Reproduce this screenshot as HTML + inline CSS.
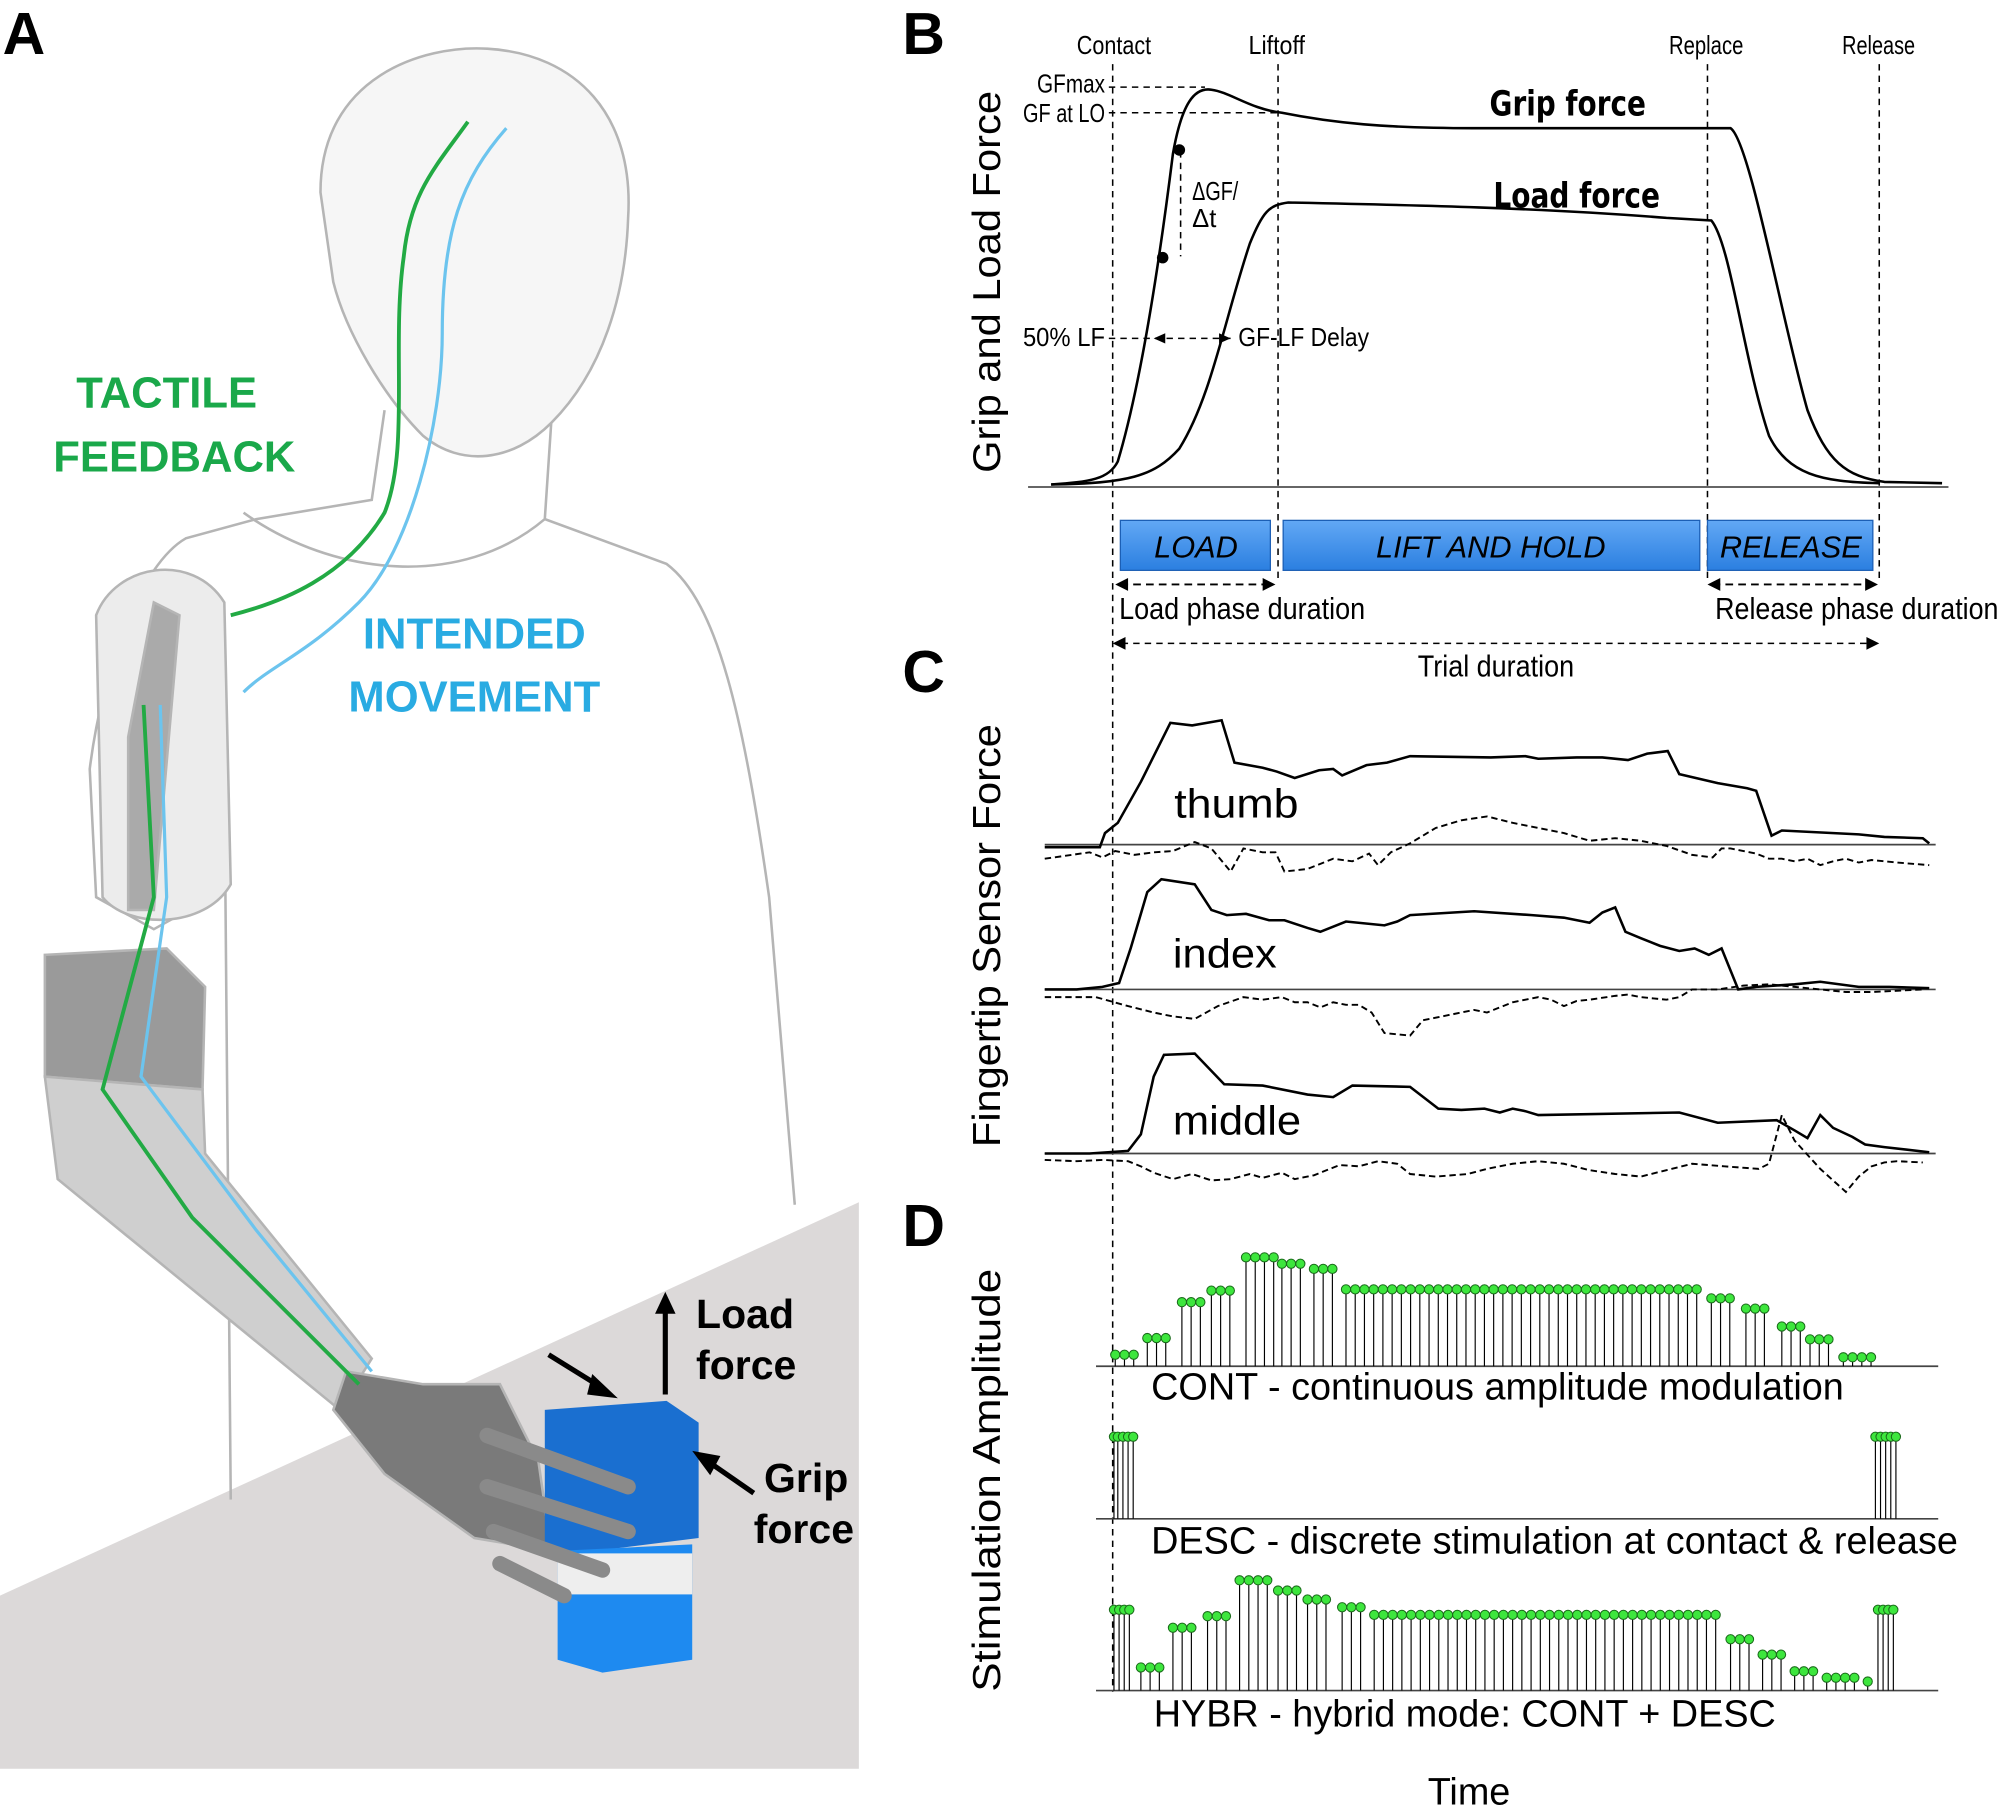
<!DOCTYPE html>
<html><head><meta charset="utf-8"><style>
html,body{margin:0;padding:0;background:#fff}
svg{display:block}
text{font-family:"Liberation Sans",sans-serif}
.n{font-family:"Liberation Sans Narrow","DejaVu Sans Condensed","Liberation Sans",sans-serif}
</style></head><body>
<svg id="s" width="2010" height="1811" viewBox="0 0 1568 1413" preserveAspectRatio="none" xmlns="http://www.w3.org/2000/svg">
<defs>
<linearGradient id="bg" x1="0" y1="0" x2="0" y2="1"><stop offset="0" stop-color="#62a8f5"/><stop offset="1" stop-color="#2b7fe0"/></linearGradient>
</defs>
<!-- Panel A -->
<text x="2" y="42" font-size="46" font-weight="bold">A</text>
<polygon points="0,1245 670,938 670,1380 0,1380" fill="#dcd9d9"/>
<g fill="none" stroke="#b5b5b5" stroke-width="2">
<path d="M250,150 C250,60 330,35 380,38 C450,42 495,90 490,170 C488,230 470,290 430,330 C400,360 360,365 330,340 C300,310 270,260 260,220 Z" fill="#f6f6f6"/>
<path d="M300,320 L290,390 L200,405 L145,420 C110,440 80,520 70,600 L75,700 L120,725 L165,700 L175,600 L180,1170 M430,330 L425,405 L520,440 C560,470 580,560 600,700 L620,940 M190,400 C260,450 360,460 425,405"/>
<path d="M75,480 C90,440 150,430 175,470 L180,690 C160,725 100,725 80,700 Z" fill="#ececec"/>
<path d="M35,745 L130,740 L160,770 L158,850 L35,840 Z" fill="#9a9a9a"/>
<path d="M35,840 L158,850 L160,900 L290,1060 L265,1100 L45,920 Z" fill="#cfcfcf"/>
<path d="M270,1070 L330,1080 L390,1080 L420,1140 L430,1210 L370,1200 L300,1150 L260,1100 Z" fill="#7a7a7a"/>
<path d="M100,575 L120,470 L140,480 L120,710 L100,710 Z" fill="#aaa"/>
</g>
<path d="M365,95 C340,130 320,150 315,200 C305,270 320,350 300,400 C270,450 220,470 180,480" fill="none" stroke="#22aa44" stroke-width="3"/>
<path d="M395,100 C360,140 345,180 345,260 C345,330 320,430 280,470 C240,510 210,520 190,540" fill="none" stroke="#6cc4ee" stroke-width="2.5"/>
<path d="M112,550 L120,700 L80,850 L150,950 L280,1080" fill="none" stroke="#22aa44" stroke-width="3"/>
<path d="M125,550 L130,700 L110,840 L200,960 L290,1070" fill="none" stroke="#6cc4ee" stroke-width="2.5"/>
<polygon points="425,1100 520,1093 545,1110 545,1200 465,1210 425,1210" fill="#1a6fd0"/>
<polygon points="435,1210 540,1205 540,1295 470,1305 435,1295" fill="#1e8af0"/>
<rect x="435" y="1212" width="105" height="32" fill="#eee"/>
<path d="M380,1120 L490,1160 M380,1160 L490,1195 M385,1195 L470,1225 M390,1220 L440,1245" stroke="#8a8a8a" stroke-width="12" stroke-linecap="round"/>
<text x="130" y="318" font-size="34" font-weight="bold" fill="#1aa84a" text-anchor="middle">TACTILE</text>
<text x="136" y="368" font-size="34" font-weight="bold" fill="#1aa84a" text-anchor="middle">FEEDBACK</text>
<text x="370" y="506" font-size="34" font-weight="bold" fill="#29abe2" text-anchor="middle">INTENDED</text>
<text x="370" y="555" font-size="34" font-weight="bold" fill="#29abe2" text-anchor="middle">MOVEMENT</text>
<text x="543" y="1036" font-size="32" font-weight="bold">Load</text>
<text x="543" y="1076" font-size="32" font-weight="bold">force</text>
<text x="596" y="1164" font-size="32" font-weight="bold">Grip</text>
<text x="588" y="1204" font-size="32" font-weight="bold">force</text>
<path d="M519,1088 L519,1020" stroke="#000" stroke-width="4"/><polygon points="511,1025 519,1008 527,1025"/>
<path d="M428,1057 L470,1083" stroke="#000" stroke-width="4"/><polygon points="462,1072 482,1091 458,1088"/>
<path d="M588,1165 L552,1140" stroke="#000" stroke-width="4"/><polygon points="562,1136 540,1132 554,1151"/>

<!-- Panel B -->
<text x="704" y="42" font-size="46" font-weight="bold">B</text>
<text x="704" y="540" font-size="46" font-weight="bold">C</text>
<text x="704" y="972" font-size="46" font-weight="bold">D</text>
<text transform="translate(780,220) rotate(-90)" font-size="30" text-anchor="middle" textLength="298" lengthAdjust="spacingAndGlyphs">Grip and Load Force</text>
<text transform="translate(780,730) rotate(-90)" font-size="30" text-anchor="middle" textLength="330" lengthAdjust="spacingAndGlyphs">Fingertip Sensor Force</text>
<text transform="translate(780,1155) rotate(-90)" font-size="30" text-anchor="middle" textLength="330" lengthAdjust="spacingAndGlyphs">Stimulation Amplitude</text>
<g class="n" font-size="20">
<text x="840" y="42" textLength="58" lengthAdjust="spacingAndGlyphs">Contact</text>
<text x="974" y="42" textLength="44" lengthAdjust="spacingAndGlyphs">Liftoff</text>
<text x="1302" y="42" textLength="58" lengthAdjust="spacingAndGlyphs">Replace</text>
<text x="1437" y="42" textLength="57" lengthAdjust="spacingAndGlyphs">Release</text>
<text x="809" y="72" textLength="53" lengthAdjust="spacingAndGlyphs">GFmax</text>
<text x="798" y="95" textLength="64" lengthAdjust="spacingAndGlyphs">GF at LO</text>
<text x="798" y="270" textLength="64" lengthAdjust="spacingAndGlyphs">50% LF</text>
<text x="966" y="270" textLength="102" lengthAdjust="spacingAndGlyphs">GF-LF Delay</text>
<text x="930" y="156" textLength="36" lengthAdjust="spacingAndGlyphs">ΔGF/</text>
<text x="930" y="177">Δt</text>
</g>
<g stroke="#000" stroke-width="1.2" stroke-dasharray="5,4" fill="none">
<path d="M868,50 V1320 M997,50 V455 M1332,50 V455 M1466,50 V455"/>
<path d="M865,68 H940 M865,88 H997 M865,264 H960 M921,118 V200"/>
<path d="M875,502 H1458"/>
</g>
<path d="M802,380 H1520" stroke="#333" stroke-width="1.2"/>
<path d="M820,378 C850,376 865,374 872,360 C890,300 905,200 915,120 C922,80 932,68 945,70 C960,72 975,85 1000,88 C1040,96 1080,100 1150,100 L1350,100 C1365,110 1390,250 1410,320 C1425,360 1440,372 1470,376 L1515,377" fill="none" stroke="#000" stroke-width="2"/>
<path d="M820,378 C880,377 900,372 920,350 C945,310 955,250 975,190 C985,165 990,160 1005,158 C1100,160 1200,162 1300,170 L1335,172 C1350,190 1360,280 1380,340 C1395,370 1420,376 1466,377" fill="none" stroke="#000" stroke-width="2"/>
<circle cx="920" cy="117" r="4.5"/><circle cx="907" cy="201" r="4.5"/>
<text x="1162" y="90" font-size="27" font-weight="bold" class="n" textLength="122" lengthAdjust="spacingAndGlyphs">Grip force</text>
<text x="1165" y="162" font-size="27" font-weight="bold" class="n" textLength="130" lengthAdjust="spacingAndGlyphs">Load force</text>
<g stroke="#1c5fb5" stroke-width="1">
<rect x="874" y="406" width="117" height="39" fill="url(#bg)"/>
<rect x="1001" y="406" width="325" height="39" fill="url(#bg)"/>
<rect x="1332" y="406" width="129" height="39" fill="url(#bg)"/>
</g>
<g font-size="24" font-style="italic" text-anchor="middle">
<text x="933" y="435">LOAD</text><text x="1163" y="435">LIFT AND HOLD</text><text x="1397" y="435">RELEASE</text>
</g>
<g stroke="#000" stroke-width="1.5" stroke-dasharray="6,4"><path d="M874,456 H991 M1336,456 H1461"/></g>
<g><polygon points="870,456 880,451 880,461"/><polygon points="995,456 985,451 985,461"/><polygon points="1332,456 1342,451 1342,461"/><polygon points="1465,456 1455,451 1455,461"/>
<polygon points="868,502 878,497 878,507"/><polygon points="1466,502 1456,497 1456,507"/>
<polygon points="900,264 909,260 909,268"/><polygon points="960,264 951,260 951,268"/></g>
<g class="n" font-size="24"><text x="873" y="483" textLength="192" lengthAdjust="spacingAndGlyphs">Load phase duration</text><text x="1338" y="483" textLength="221" lengthAdjust="spacingAndGlyphs">Release phase duration</text><text x="1106" y="528" textLength="122" lengthAdjust="spacingAndGlyphs">Trial duration</text></g>

<!-- Panel C -->
<g stroke="#444" stroke-width="1.3"><path d="M815,659 H1510 M815,772 H1510 M815,900 H1510"/></g>
<g fill="none" stroke="#000" stroke-width="2">
<path d="M815,661 L858,661 L862,650 L872,642 L890,610 L913,564 L930,566 L953,562 L963,595 L985,599 L996,602 L1010,607 L1029,601 L1040,600 L1047,605 L1066,597 L1082,595 L1100,590 L1163,591 L1190,590 L1200,592 L1230,591 L1250,591 L1270,593 L1285,588 L1301,586 L1310,604 L1340,611 L1363,615 L1370,617 L1382,652 L1390,648 L1450,651 L1470,653 L1500,654 L1505,658"/>
<path d="M815,772 L840,772 L860,770 L873,767 L882,740 L895,696 L906,686 L932,690 L945,710 L957,714 L972,713 L990,718 L1002,718 L1020,724 L1030,727 L1050,719 L1080,722 L1090,719 L1100,714 L1150,711 L1195,714 L1220,716 L1240,720 L1250,712 L1260,708 L1268,727 L1280,732 L1295,738 L1310,742 L1322,740 L1333,745 L1343,740 L1356,772 L1370,770 L1400,768 L1420,766 L1450,770 L1474,770 L1505,771"/>
<path d="M815,900 L850,900 L880,898 L890,885 L900,840 L908,823 L932,822 L955,846 L985,847 L1020,854 L1040,856 L1055,847 L1100,848 L1122,865 L1140,866 L1158,865 L1170,868 L1180,865 L1190,867 L1200,870 L1310,868 L1340,876 L1386,874 L1400,882 L1410,888 L1420,870 L1430,880 L1445,887 L1455,893 L1470,895 L1505,899"/>
</g>
<g fill="none" stroke="#000" stroke-width="1.5" stroke-dasharray="5,3">
<path d="M815,670 L850,665 L860,669 L870,664 L885,667 L900,665 L915,664 L932,657 L945,662 L960,680 L970,662 L985,665 L995,665 L1002,680 L1020,678 L1040,670 L1055,672 L1068,666 L1075,675 L1085,665 L1100,658 L1120,646 L1140,640 L1160,637 L1180,642 L1200,646 L1220,650 L1240,656 L1250,655 L1260,654 L1280,656 L1300,660 L1320,667 L1336,669 L1343,662 L1350,662 L1370,666 L1380,670 L1390,670 L1400,672 L1410,670 L1420,675 L1430,672 L1440,670 L1450,673 L1460,671 L1470,672 L1480,673 L1505,675"/>
<path d="M815,778 L840,778 L855,778 L880,785 L900,790 L915,793 L932,795 L950,785 L970,778 L985,780 L1000,778 L1010,782 L1020,782 L1030,786 L1040,782 L1050,784 L1060,784 L1070,790 L1080,806 L1090,807 L1100,808 L1110,796 L1130,792 L1140,790 L1150,788 L1160,790 L1170,786 L1180,782 L1190,780 L1200,778 L1210,780 L1220,785 L1230,781 L1240,780 L1260,777 L1270,776 L1280,778 L1290,779 L1300,780 L1310,778 L1320,772 L1340,772 L1360,769 L1380,768 L1400,770 L1420,772 L1440,774 L1460,774 L1500,772"/>
<path d="M815,905 L840,906 L860,905 L880,906 L890,910 L900,915 L915,920 L930,916 L945,921 L960,920 L975,916 L985,919 L1000,915 L1010,920 L1025,917 L1035,913 L1045,909 L1060,910 L1075,906 L1090,908 L1100,916 L1120,918 L1145,916 L1160,912 L1180,908 L1200,906 L1220,908 L1240,913 L1260,916 L1280,918 L1300,913 L1320,908 L1345,910 L1372,912 L1380,908 L1390,870 L1400,890 L1420,912 L1440,930 L1450,918 L1460,910 L1470,907 L1480,906 L1500,907"/>
</g>
<g font-size="32" class="n"><text x="916" y="638" textLength="97" lengthAdjust="spacingAndGlyphs">thumb</text><text x="915" y="755" textLength="81" lengthAdjust="spacingAndGlyphs">index</text><text x="915" y="885" textLength="100" lengthAdjust="spacingAndGlyphs">middle</text></g>

<!-- Panel D -->
<g stroke="#444" stroke-width="1.3"><path d="M855,1066 H1512 M855,1185 H1512 M855,1319 H1512"/></g>
<g id="stems" stroke="#000" stroke-width="0.9"></g>
<g id="dots" fill="#3de63d" stroke="#1a6a1a" stroke-width="0.8"></g>
<g font-size="29.5">
<text x="898" y="1092">CONT - continuous amplitude modulation</text>
<text x="898" y="1212">DESC - discrete stimulation at contact &amp; release</text>
<text x="900" y="1347">HYBR - hybrid mode: CONT + DESC</text>
<text x="1146" y="1408" text-anchor="middle">Time</text>
</g>
</svg>
<script>
var S=document.getElementById('stems'),D=document.getElementById('dots'),ns='http://www.w3.org/2000/svg';
function st(x,y,b){var l=document.createElementNS(ns,'line');l.setAttribute('x1',x);l.setAttribute('x2',x);l.setAttribute('y1',y);l.setAttribute('y2',b);S.appendChild(l);var c=document.createElementNS(ns,'circle');c.setAttribute('cx',x);c.setAttribute('cy',y);c.setAttribute('r',3.6);D.appendChild(c);}
function grp(segs,b){segs.forEach(function(s){for(var x=s[0];x<=s[1]+0.1;x+=7.2)st(x,s[2],b);});}
grp([[870,885,1057],[895,912,1044],[922,938,1016],[945,965,1007],[972,995,981],[1000,1018,986],[1025,1042,990],[1050,1328,1006],[1335,1355,1013],[1362,1380,1021],[1390,1405,1035],[1412,1430,1045],[1438,1460,1059]],1066);
[[869,1121],[872,1121],[876,1121],[880,1121],[884,1121],[1463,1121],[1467,1121],[1471,1121],[1475,1121],[1479,1121]].forEach(function(p){st(p[0],p[1],1185);});
grp([[890,907,1301],[915,935,1270],[942,960,1261],[967,990,1233],[997,1015,1241],[1020,1040,1248],[1047,1065,1254],[1072,1340,1260],[1350,1368,1279],[1375,1392,1291],[1400,1420,1304],[1425,1450,1309],[1457,1458,1312]],1319);
[869,873,877,881,1465,1469,1473,1477].forEach(function(x){st(x,1256,1319);});
</script>
</body></html>
